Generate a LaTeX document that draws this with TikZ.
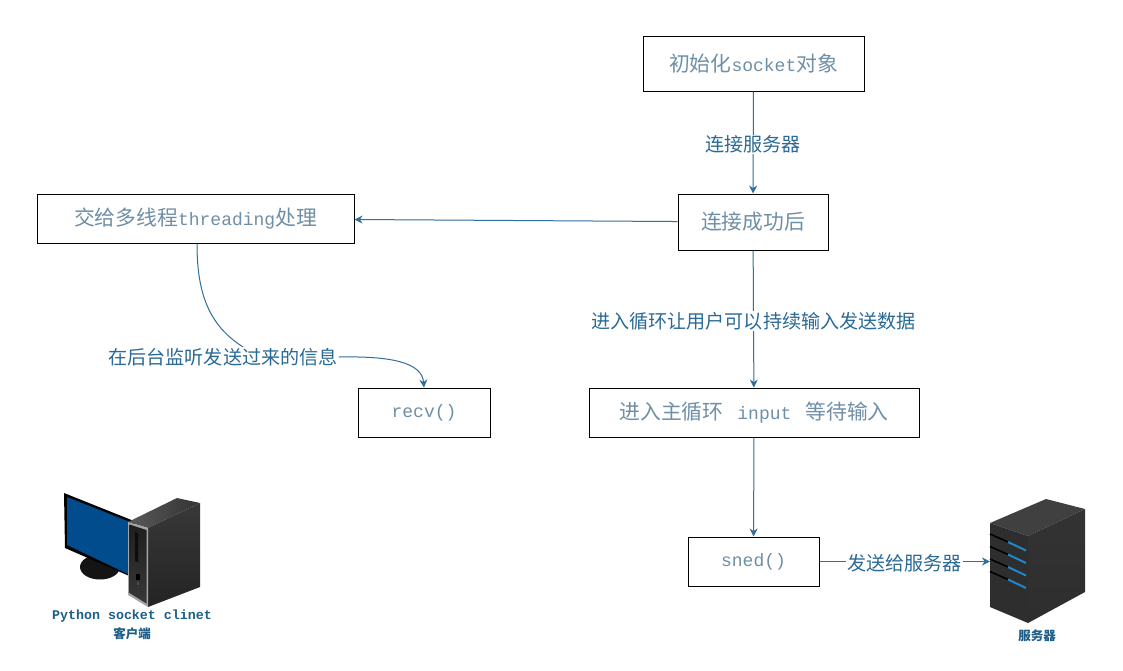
\documentclass[tikz,border=0pt]{standalone}
\usepackage{fontspec}
\setmainfont{Noto Sans CJK SC}
\setmonofont{Liberation Mono}
\usetikzlibrary{arrows.meta,calc}
\definecolor{boxtext}{HTML}{6F8FA6}
\definecolor{linkcol}{HTML}{2F6F9B}
\definecolor{labelcol}{HTML}{2B6A96}
\definecolor{captioncol}{HTML}{1D5F88}
\definecolor{screenblue}{RGB}{0,76,140}
\definecolor{barblue}{HTML}{1E88C8}
\newcommand{\mlat}[1]{{\fontsize{18}{20}\selectfont\ttfamily #1}}
\tikzset{
  flowbox/.style={draw=black,line width=1pt,fill=white,text=boxtext,inner sep=0pt,font=\fontsize{20.8}{24}\selectfont},
  link/.style={draw=linkcol,line width=1pt,-{Stealth[length=8pt,width=8pt]}},
  plainlink/.style={draw=linkcol,line width=1pt},
  linklabel/.style={fill=white,text=labelcol,inner sep=1pt,font=\fontsize{19.1}{23}\selectfont},
  caption/.style={text=captioncol,inner sep=0pt,font=\fontsize{12.5}{15}\selectfont}
}
\begin{document}
\begin{tikzpicture}[x=1pt,y=-1pt]
\useasboundingbox (0,0) rectangle (1123,670);
\fill[white] (0,0) rectangle (1123,670);

% boxes
\node[flowbox,minimum width=221pt,minimum height=55pt] (init) at (753.5,63.5) {初始化\mlat{socket}对象};
\node[flowbox,minimum width=150pt,minimum height=56pt] (conn) at (753,222) {连接成功后};
\node[flowbox,minimum width=317pt,minimum height=49pt] (thr) at (195.5,218.5) {交给多线程\mlat{threading}处理};
\node[flowbox,minimum width=132pt,minimum height=49pt] (recv) at (424,412.5) {\mlat{recv()}};
\node[flowbox,minimum width=330pt,minimum height=49pt] (inp) at (754,412.5) {进入主循环\hspace{14pt}\mlat{input}\hspace{14pt}等待输入};
\node[flowbox,minimum width=131pt,minimum height=49pt] (snd) at (753.5,561.5) {\mlat{sned()}};
\coordinate (srv) at (990,561.5);
\coordinate (throut) at (197,243.5);
\coordinate (mid) at (262,357);

% connectors
\draw[link] (init) -- node[linklabel,pos=0.5,yshift=-2pt] (l1) {连接服务器} (conn);
\draw[link] (conn) -- (thr);
\draw[link] (conn) -- node[linklabel,pos=0.5,yshift=-2pt] (l2) {进入循环让用户可以持续输入发送数据} (inp);
\draw[link] (inp) -- (snd);
\draw[link] (snd) -- node[linklabel,pos=0.5,yshift=-2pt] (l3) {发送给服务器} (srv);
\draw[plainlink] (throut) .. controls (197,300) and (212,335) .. (mid);
\node[linklabel] (l4) at (223,357) {在后台监听发送过来的信息};
\draw[link] (l4.east) .. controls (390,356) and (422,362) .. (recv.north);

% client computer
\fill[black!92] (100,567) ellipse [x radius=20, y radius=12.5];
\fill[black] (64,493) -- (134,521) -- (134,578) -- (65,548) -- cycle;
\fill[screenblue] (67,497) -- (130,522) -- (130,575) -- (67,545) -- cycle;
\shade[left color=black!65,right color=black!80] (128,522) -- (177,498) -- (200,503) -- (148,528) -- cycle;
\shade[top color=black!78,bottom color=black!86] (148,528) -- (200,503) -- (200,587) -- (148,607) -- cycle;
\fill[black!35] (128,522) -- (148,528) -- (148,607) -- (128,595) -- cycle;
\shade[top color=black!88,bottom color=black!78] (129.5,524.5) -- (146.5,530) -- (146.5,603.5) -- (129.5,593) -- cycle;
\fill[black] (136,574) rectangle (140,580);
\fill[black!70] (136.5,582) rectangle (138.5,585);
\fill[black!95] (135,532) -- (138,533) -- (138,562) -- (135,561) -- cycle;
\node[caption,font=\fontsize{13.3}{15}\selectfont\ttfamily\bfseries] (cl1) at (132,616) {Python socket clinet};
\node[caption] (cl2) at (132,634) {\bfseries 客户端};

% server
\fill[black!75] (990,523) -- (1046,499) -- (1085,509) -- (1028,536) -- cycle;
\fill[black!82] (990,523) -- (1028,536) -- (1028,623) -- (990,607) -- cycle;
\shade[top color=black!80,bottom color=black!82] (1028,536) -- (1085,509) -- (1085,592) -- (1028,623) -- cycle;
\foreach \yy in {534,546.5,559,571.5}{
  \draw[black,line width=1.6pt] (990,\yy) -- (1008,\yy+8);
  \draw[barblue,line width=2pt] (1008,\yy+8) -- (1026,\yy+16.5);
}
\node[caption] (cs) at (1037,636) {\bfseries 服务器};
\end{tikzpicture}
\end{document}
